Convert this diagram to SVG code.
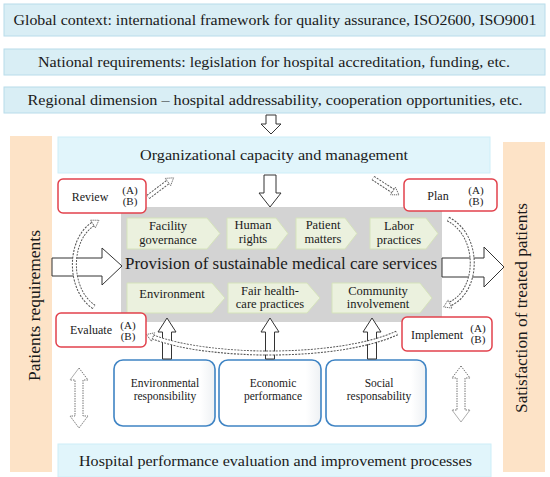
<svg xmlns="http://www.w3.org/2000/svg" width="550" height="477" viewBox="0 0 550 477">
<style>
text{font-family:'Liberation Serif','DejaVu Serif','Times New Roman',serif;fill:#1a1a1a}
.ctx{fill:#d9eef5;stroke:#b8dcea;stroke-width:1}
.cap{fill:#e1f5fb;stroke:#cdeef8;stroke-width:1}
.side{fill:#fde3c7}
.gray{fill:#d3d3d3}
.pent{fill:#ebf1de;stroke:#d5e3bb;stroke-width:1}
.red{fill:#ffffff;stroke:#e2424c;stroke-width:1.5}
.blue{fill:url(#bg);stroke:#3f84c4;stroke-width:1.6}
.hollow{fill:#ffffff;stroke:#333333;stroke-width:1}
.dotted{fill:#ffffff;stroke:#777777;stroke-width:1;stroke-dasharray:1.5 1}
.dOut{fill:none;stroke:#555555;stroke-width:5;stroke-dasharray:2 1.2}
.dIn{fill:none;stroke:#ffffff;stroke-width:3}
.t14{font-size:14.5px}
.t12{font-size:12.5px}
.t11{font-size:11px}
.lab{font-size:12px}
.lab2{font-size:11.5px}
</style>
<defs>
<linearGradient id="bg" x1="0" y1="0" x2="1" y2="0">
<stop offset="0" stop-color="#ffffff"/>
<stop offset="0.85" stop-color="#ffffff"/>
<stop offset="1" stop-color="#eef1f4"/>
</linearGradient>
<marker id="dh" viewBox="-1 -6 10 12" refX="0" refY="0" markerWidth="10" markerHeight="12" markerUnits="userSpaceOnUse" orient="auto" overflow="visible">
<polygon points="0,-4.5 7,0 0,4.5" fill="#ffffff" stroke="#555555" stroke-width="0.8" stroke-dasharray="1.2 0.8"/>
</marker>
</defs>
<g font-family="'Liberation Serif','DejaVu Serif',serif">
<g id="context-global"><rect class="ctx" x="4" y="4" width="541" height="32"/>
<text class="t14" x="275" y="25" text-anchor="middle" textLength="523" lengthAdjust="spacingAndGlyphs">Global context: international framework for quality assurance, ISO2600, ISO9001</text></g>
<g id="context-national"><rect class="ctx" x="4" y="49" width="541" height="26"/>
<text class="t14" x="274" y="67" text-anchor="middle" textLength="472" lengthAdjust="spacingAndGlyphs">National requirements: legislation for hospital accreditation, funding, etc.</text></g>
<g id="context-regional"><rect class="ctx" x="4" y="87" width="541" height="26"/>
<text class="t14" x="275" y="105" text-anchor="middle" textLength="495" lengthAdjust="spacingAndGlyphs">Regional dimension – hospital addressability, cooperation opportunities, etc.</text></g>

<g id="patients-requirements"><rect class="side" x="10" y="136" width="42" height="336"/>
<text font-size="17" transform="translate(40,305.5) rotate(-90)" text-anchor="middle" textLength="151" lengthAdjust="spacingAndGlyphs">Patients requirements</text></g>
<g id="satisfaction"><rect class="side" x="503" y="142" width="42" height="330"/>
<text font-size="17" transform="translate(527,308) rotate(-90)" text-anchor="middle" textLength="210" lengthAdjust="spacingAndGlyphs">Satisfaction of treated patients</text></g>

<g id="org-capacity"><rect class="cap" x="58" y="137" width="432" height="36"/>
<text font-size="15.5" x="274" y="160" text-anchor="middle" textLength="268" lengthAdjust="spacingAndGlyphs">Organizational capacity and management</text></g>

<g id="provision"><rect class="gray" x="121" y="207" width="321" height="115"/>
<text font-size="17.5" x="281" y="269" text-anchor="middle" textLength="312" lengthAdjust="spacingAndGlyphs">Provision of sustainable medical care services</text></g>

<g id="facility-governance"><path class="pent" d="M127,218H207L220,233.5L207,249H127Z"/>
<text class="t12" x="168" y="230" text-anchor="middle">Facility</text><text class="t12" x="168" y="244" text-anchor="middle">governance</text></g>
<g id="human-rights"><path class="pent" d="M227,218H276L288,233.5L276,249H227Z"/>
<text class="t12" x="253" y="229" text-anchor="middle">Human</text><text class="t12" x="253" y="243" text-anchor="middle">rights</text></g>
<g id="patient-matters"><path class="pent" d="M296,218H345L357,233.5L345,249H296Z"/>
<text class="t12" x="323" y="229" text-anchor="middle">Patient</text><text class="t12" x="323" y="243" text-anchor="middle">matters</text></g>
<g id="labor-practices"><path class="pent" d="M370,218H426L438,233.5L426,249H370Z"/>
<text class="t12" x="399" y="230" text-anchor="middle">Labor</text><text class="t12" x="399" y="244" text-anchor="middle">practices</text></g>
<g id="environment"><path class="pent" d="M127,283H212L225,298L212,313H127Z"/>
<text class="t12" x="172" y="298" text-anchor="middle">Environment</text></g>
<g id="fair-practices"><path class="pent" d="M228,283H307L320,298L307,313H228Z"/>
<text class="t12" x="270" y="294.5" text-anchor="middle">Fair health-</text><text class="t12" x="270" y="308" text-anchor="middle">care practices</text></g>
<g id="community"><path class="pent" d="M332,283H420L432,298L420,313H332Z"/>
<text class="t12" x="378" y="294.5" text-anchor="middle">Community</text><text class="t12" x="378" y="308" text-anchor="middle">involvement</text></g>

<g id="env-responsibility"><rect class="blue" x="114" y="360" width="101" height="66" rx="9"/>
<text class="lab2" x="165" y="387" text-anchor="middle">Environmental</text><text class="lab2" x="165" y="400" text-anchor="middle">responsibility</text></g>
<g id="economic-performance"><rect class="blue" x="219" y="360" width="102" height="66" rx="9"/>
<text class="lab2" x="273" y="387" text-anchor="middle">Economic</text><text class="lab2" x="273" y="400" text-anchor="middle">performance</text></g>
<g id="social-responsability"><rect class="blue" x="326" y="360" width="100" height="66" rx="9"/>
<text class="lab2" x="379" y="387" text-anchor="middle">Social</text><text class="lab2" x="379" y="400" text-anchor="middle">responsability</text></g>

<g id="hospital-performance"><rect class="cap" x="58" y="444" width="433" height="33"/>
<text font-size="15" x="275.5" y="466" text-anchor="middle" textLength="393" lengthAdjust="spacingAndGlyphs">Hospital performance evaluation and improvement processes</text></g>

<g id="connectors">
<polygon class="hollow" points="266,115 276,115 276,124 281,124 271,134 261,124 266,124"/>
<polygon class="hollow" points="264,175 276,175 276,193 281,193 270,207 259,193 264,193"/>
<polygon class="hollow" points="52,258 102,258 102,248 122,266 102,285 102,276 52,276"/>
<polygon class="hollow" points="442,258 484,258 484,247 504,267 484,287 484,277 442,277"/>
<polygon class="hollow" points="167,318 176,332 171.5,332 171.5,359 162.5,359 162.5,332 158,332"/>
<polygon class="hollow" points="270,318 279,332 274.5,332 274.5,359 265.5,359 265.5,332 261,332"/>
<polygon class="hollow" points="372,318 381,332 376.5,332 376.5,359 367.5,359 367.5,332 363,332"/>
<polygon class="dotted" points="79,368 88,380 83,380 83,416 88,416 79,428 70,416 75,416 75,380 70,380"/>
<polygon class="dotted" points="461,366 470,378 465,378 465,410 470,410 461,422 452,410 457,410 457,378 452,378"/>
<path class="dOut" d="M148,197L168,182"/><path class="dIn" d="M148,197L168,182" marker-end="url(#dh)"/>
<path class="dOut" d="M373,178L393,191"/><path class="dIn" d="M373,178L393,191" marker-end="url(#dh)"/>
<path class="dOut" d="M94,307C68,290 68,240 93,224"/><path class="dIn" d="M94,307C68,290 68,240 93,224" marker-end="url(#dh)"/>
<path class="dOut" d="M448,219C480,235 480,290 450,304"/><path class="dIn" d="M448,219C480,235 480,290 450,304" marker-end="url(#dh)"/>
<path class="dOut" d="M397,333C340,359 210,359 153,337"/><path class="dIn" d="M397,333C340,359 210,359 153,337" marker-end="url(#dh)"/>
</g>

<g id="review"><rect class="red" x="58" y="179" width="88" height="34" rx="5"/>
<text class="lab" x="90" y="201" text-anchor="middle">Review</text>
<text class="t11" x="130" y="194" text-anchor="middle">(A)</text><text class="t11" x="130" y="205" text-anchor="middle">(B)</text></g>
<g id="plan"><rect class="red" x="404" y="179" width="93" height="32" rx="5"/>
<text class="lab" x="438" y="200" text-anchor="middle">Plan</text>
<text class="t11" x="476" y="194" text-anchor="middle">(A)</text><text class="t11" x="476" y="205" text-anchor="middle">(B)</text></g>
<g id="evaluate"><rect class="red" x="56" y="313" width="90" height="34" rx="5"/>
<text class="lab" x="91" y="334" text-anchor="middle">Evaluate</text>
<text class="t11" x="128" y="329" text-anchor="middle">(A)</text><text class="t11" x="128" y="340" text-anchor="middle">(B)</text></g>
<g id="implement"><rect class="red" x="402" y="317" width="90" height="34" rx="5"/>
<text class="lab" x="437" y="339" text-anchor="middle">Implement</text>
<text class="t11" x="478" y="332" text-anchor="middle">(A)</text><text class="t11" x="478" y="343" text-anchor="middle">(B)</text></g>
</g>
</svg>
